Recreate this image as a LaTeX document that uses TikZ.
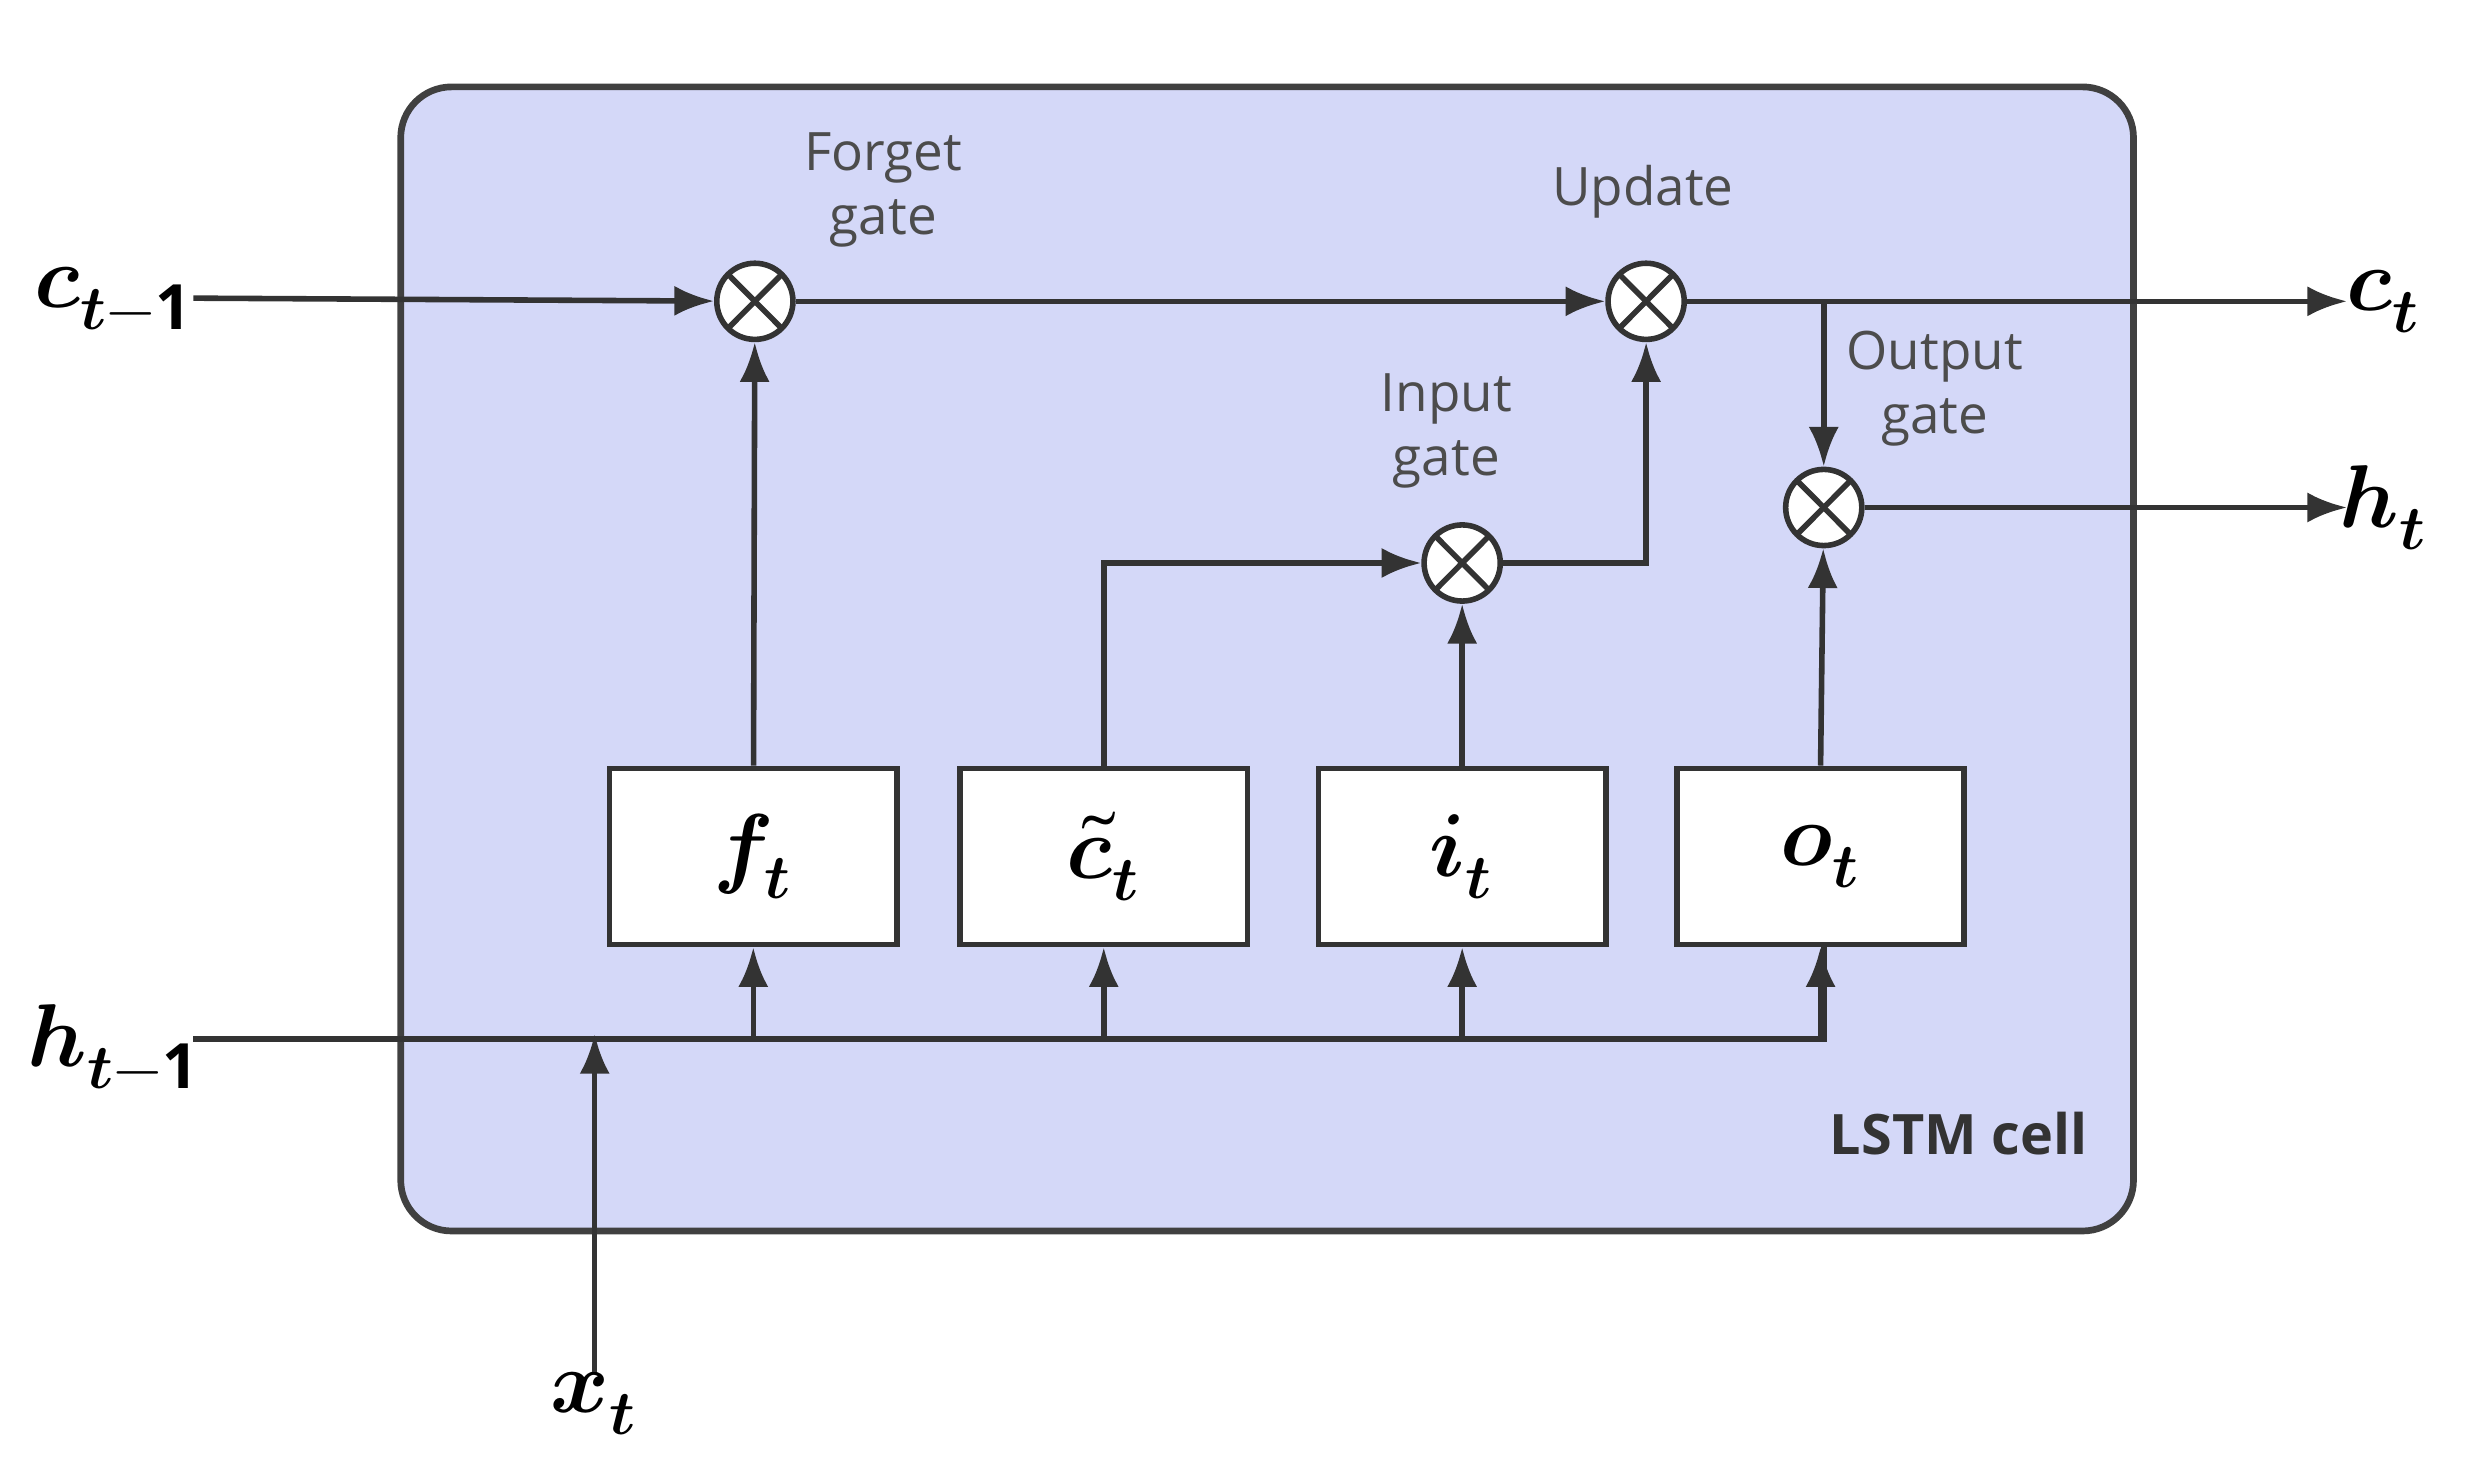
\documentclass[tikz,border=0pt]{standalone}
\usepackage{fontspec}
\setmainfont{Open Sans}
\usepackage{amsmath}
\usepackage{unicode-math}
\setmathfont{Latin Modern Math}
\usetikzlibrary{arrows.meta}
\begin{document}
\begin{tikzpicture}[x=0.01cm,y=-0.01cm,
  line width=1pt,
  ar/.style={draw=black!80,-{Latex[length=0.25cm,width=0.19cm]}},
  ln/.style={draw=black!80},
  mul/.style={circle,draw=black!80,fill=white,minimum size=0.48cm,inner sep=0pt,line width=1pt,
     path picture={\draw[black!80,line width=1pt] (path picture bounding box.north west)++(0.07,-0.07) -- ([shift={(-0.07,0.07)}]path picture bounding box.south east);
     \draw[black!80,line width=1pt] ([shift={(0.07,0.07)}]path picture bounding box.south west) -- ([shift={(-0.07,-0.07)}]path picture bounding box.north east);}},
  box/.style={draw=black!80,fill=white,minimum width=1.81cm,minimum height=1.11cm,inner sep=0pt,line width=1pt},
  lbl/.style={text=black!70,font=\fontsize{9.5}{11.5}\selectfont,align=center},
  mth/.style={font=\fontsize{16}{18}\selectfont}]
\useasboundingbox (0,0) rectangle (1555,927);
\node[draw=black!75,fill={rgb,255:red,212;green,216;blue,248},rounded corners=0.32cm,line width=1.2pt,
  minimum width=10.92cm,minimum height=7.21cm,inner sep=0pt] (cell) at (799,415.5) {};
% multipliers
\node[mul] (fg) at (476,190) {};
\node[mul] (ug) at (1038,190) {};
\node[mul] (ig) at (922,355) {};
\node[mul] (og) at (1150,320) {};
% boxes
\node[box] (f) at (475,540) {};
\node[mth] at (475,540) {$\symbfit{f}_{\symbfit{t}}$};
\node[box] (c) at (696,540) {};
\node[mth] at (696,540) {$\widetilde{\symbfit{c}}_{\symbfit{t}}$};
\node[box] (i) at (922,540) {};
\node[mth] at (922,540) {$\symbfit{i}_{\symbfit{t}}$};
\node[box] (o) at (1148,540) {};
\node[mth] at (1148,540) {$\symbfit{o}_{\symbfit{t}}$};
% labels
\node[mth] (cin) at (72,188) {$\symbfit{c}_{\symbfit{t}-\mathbf{1}}$};
\node[mth] (hin) at (72,660) {$\symbfit{h}_{\symbfit{t}-\mathbf{1}}$};
\node[mth] (xin) at (375,885) {$\symbfit{x}_{\symbfit{t}}$};
\node[mth] (cout) at (1503,190) {$\symbfit{c}_{\symbfit{t}}$};
\node[mth] (hout) at (1503,320) {$\symbfit{h}_{\symbfit{t}}$};
\node[lbl] at (557,120) {Forget\\gate};
\node[lbl] at (1036,121) {Update};
\node[lbl] at (912,272) {Input\\gate};
\node[lbl] at (1220,245) {Output\\gate};
\node[font=\bfseries\fontsize{10}{12}\selectfont,text=black!80] at (1235,715) {LSTM cell};
% coordinates
\coordinate (cs) at (122,188);
\coordinate (hs) at (122,655);
\coordinate (he) at (1150,655);
\coordinate (br) at (1150,190);
\coordinate (xs) at (375,865);
\coordinate (xe) at (375,652);
\coordinate (ce) at (1480,190);
\coordinate (hoe) at (1480,320);
% connectors
\draw[ar] (cs) -- (fg);
\draw[ar] (fg) -- (ug);
\draw[ar] (ug) -- (ce);
\draw[ar] (br) -- (og);
\draw[ar] (og) -- (hoe);
\draw[ar] (f) -- (fg);
\draw[ar] (c.north) |- (ig);
\draw[ar] (ig) -| (ug);
\draw[ar] (i) -- (ig);
\draw[ar] (o.north) -- (og);
\draw[ln] (hs) -- (he) -- (he|-o.south);
\draw[ar] (f.south|-hs) -- (f);
\draw[ar] (c.south|-hs) -- (c);
\draw[ar] (i.south|-hs) -- (i);
\draw[ar] (1148,655) -- (o);
\draw[ar] (xs) -- (xe);
\end{tikzpicture}
\end{document}
